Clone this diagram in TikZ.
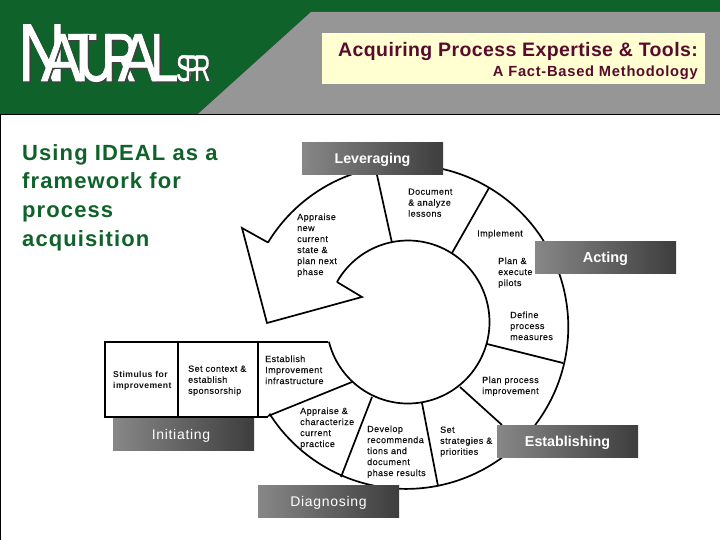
\documentclass[tikz,border=0pt]{standalone}
\usepackage{fontspec}
\setmainfont{Liberation Sans}
\newfontfamily\spaced[LetterSpace=5]{Liberation Sans}
\newfontfamily\tight[LetterSpace=2]{Liberation Sans}
\newfontfamily\smallf[LetterSpace=5,FakeBold=0.35]{Liberation Sans}
\newfontfamily\logof[FakeBold=1.2]{Liberation Sans}
\definecolor{hdrgreen}{HTML}{0F6229}
\definecolor{hdrgray}{HTML}{969696}
\definecolor{cream}{HTML}{FFFFD2}
\definecolor{maroon}{HTML}{5A0A2D}
\definecolor{lbl}{HTML}{101010}
\tikzset{
  ring/.style={draw=black,line width=1.7pt,line join=miter},
  gbox/.style={minimum width=141pt,minimum height=32pt,inner sep=0pt,left color=black!47,right color=black!76,text=white,text height=10pt,text depth=0pt},
  small/.style={anchor=north west,inner sep=0pt,align=left,text=lbl,font=\smallf\fontsize{9}{11}\selectfont,execute at begin node={\rule{0pt}{7pt}}},
  glyph/.style={anchor=base west,inner sep=0pt}
}
\newcommand{\lgl}[6]{%
  \node[glyph,text=black!75] at (#2+1.5,-#3-1.2) {\logof\fontsize{#4}{#4}\selectfont\scalebox{#5}[1]{#6}};
  \node[glyph,text=white] (#1) at (#2,-#3) {\logof\fontsize{#4}{#4}\selectfont\scalebox{#5}[1]{#6}};
}
\begin{document}
\begin{tikzpicture}[x=1pt,y=1pt]
\useasboundingbox (0,0) rectangle (720,-540);
\fill[white] (0,0) rectangle (720,-540);
% header
\fill[hdrgreen] (0,0) rectangle (720,-114);
\fill[hdrgray] (311,-12) -- (720,-12) -- (720,-114) -- (198,-114) -- cycle;
\draw[black,line width=0.9pt] (0.4,-540) -- (0.4,-114) -- (720,-114);
\node[fill=cream,inner sep=0pt,minimum width=383pt,minimum height=51pt,anchor=north west] (titlebox) at (322,-33) {};
\node[anchor=base east,inner sep=0pt,text=maroon] (title) at (698,-57) {\tight\fontsize{19.5}{20}\bfseries\selectfont Acquiring Process Expertise \& Tools:};
\node[anchor=base east,inner sep=0pt,text=maroon] (subtitle) at (698,-77) {\spaced\fontsize{14.7}{15}\bfseries\selectfont A Fact-Based Methodology};
% logo
\lgl{l1}{18}{81}{82}{0.8}{N}
\lgl{l2}{41}{81}{68}{0.9}{A}
\lgl{l3}{67}{81}{68}{0.72}{T}
\lgl{l4}{79}{81}{68}{0.7}{U}
\lgl{l5}{103}{81}{68}{0.68}{R}
\lgl{l6}{118}{81}{68}{0.88}{A}
\lgl{l7}{150}{81}{68}{0.74}{L}
\lgl{l8}{176}{81}{37}{0.62}{S}
\lgl{l9}{185}{81}{37}{0.58}{P}
\lgl{l10}{194}{81}{37}{0.6}{R}
% left text
\node[anchor=north west,inner sep=0pt,align=left,text=hdrgreen,font=\spaced\fontsize{22}{28.7}\bfseries\selectfont] (intro) at (22,-144) {Using IDEAL as a\\framework for\\process\\acquisition};
% named points
\coordinate (a1) at (377,-175); \coordinate (a2) at (392,-243);
\coordinate (b1) at (489,-188); \coordinate (b2) at (452,-253);
\coordinate (c1) at (487,-344); \coordinate (c2) at (563,-363);
\coordinate (d1) at (460,-387); \coordinate (d2) at (502,-425);
\coordinate (e1) at (422,-403); \coordinate (e2) at (438,-486);
\coordinate (f1) at (372,-397); \coordinate (f2) at (341,-477);
\coordinate (g1) at (352,-382); \coordinate (g2) at (268,-416);
\coordinate (b0) at (105,-342); \coordinate (b3) at (328,-342);
\coordinate (b4) at (105,-417); \coordinate (b5) at (268,-417);
\coordinate (v1) at (178,-342); \coordinate (v2) at (178,-417);
\coordinate (v3) at (258,-342); \coordinate (v4) at (258,-417);
\coordinate (h1) at (268,-242.5); \coordinate (h2) at (242,-228);
\coordinate (h3) at (267,-323); \coordinate (h4) at (362,-297);
\coordinate (h5) at (337,-282);
% ring
\draw[ring] (h1) arc[start angle=148.6,end angle=-147.6,radius=162];
\draw[ring] (h1) -- (h2) -- (h3) -- (h4) -- (h5);
\draw[ring] (h5) arc[start angle=150.6,end angle=-166,radius=81.5];
\foreach \p/\q in {a1/a2,b1/b2,c1/c2,d1/d2,e1/e2,f1/f2,g1/g2,v1/v2,v3/v4}{\draw[ring] (\p) -- (\q);}
\draw[ring] (b3) -- (b0) -- (b4) -- (b5);
% labels
\node[small] (t1) at (408,-188.3) {Document\\\& analyze\\lessons};
\node[small] (t2) at (297,-213.3) {Appraise\\new\\current\\state \&\\plan next\\phase};
\node[small] (t3) at (477,-229.3) {Implement};
\node[small] (t4) at (498,-257.3) {Plan \&\\execute\\pilots};
\node[small] (t5) at (510,-311.3) {Define\\process\\measures};
\node[small] (t6) at (482,-376.3) {Plan process\\improvement};
\node[small] (t7) at (440,-426.3) {Set\\strategies \&\\priorities};
\node[small] (t8) at (367,-425.3) {Develop\\recommenda\\tions and\\document\\phase results};
\node[small] (t9) at (300,-407.3) {Appraise \&\\characterize\\current\\practice};
\node[small] (t10) at (265,-355.3) {Establish\\Improvement\\infrastructure};
\node[small] (t11) at (188,-365.3) {Set context \&\\establish\\sponsorship};
\node[small,font=\spaced\fontsize{8.6}{11}\bfseries\selectfont] (t12) at (113,-371.3) {Stimulus for\\improvement};
% phase boxes
\node[gbox,font=\fontsize{14.2}{15}\bfseries\selectfont] (lev) at (372.5,-159) {Leveraging};
\node[gbox,font=\fontsize{14.5}{15}\bfseries\selectfont] (act) at (605.5,-257) {Acting};
\node[gbox,font=\fontsize{14.3}{15}\bfseries\selectfont] (est) at (567.5,-441) {Establishing};
\node[gbox,font=\spaced\fontsize{14}{15}\selectfont] (ini) at (183.5,-434) {\kern-5pt Initiating};
\node[gbox,font=\spaced\fontsize{14}{15}\selectfont] (dia) at (328.5,-501) {Diagnosing};
\end{tikzpicture}
\end{document}
